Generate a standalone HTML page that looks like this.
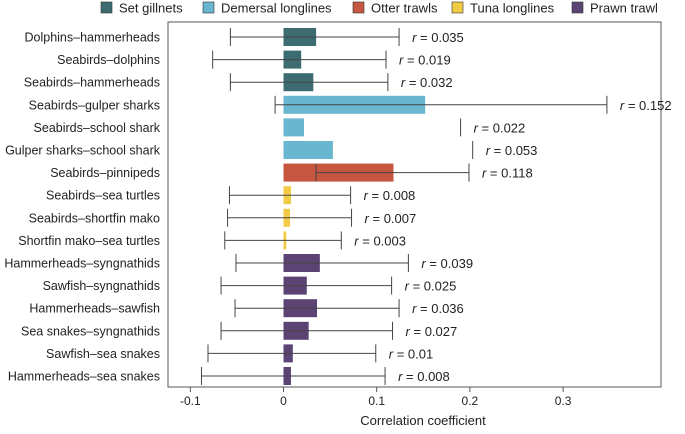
<!DOCTYPE html>
<html><head><meta charset="utf-8"><style>
body{margin:0;background:#fff;font-family:"Liberation Sans",sans-serif;}
svg text{font-family:"Liberation Sans",sans-serif;fill:#222;}
</style></head><body>
<svg id="c" width="685" height="429"></svg>
<script>
const categories=["Dolphins–hammerheads","Seabirds–dolphins","Seabirds–hammerheads","Seabirds–gulper sharks","Seabirds–school shark","Gulper sharks–school shark","Seabirds–pinnipeds","Seabirds–sea turtles","Seabirds–shortfin mako","Shortfin mako–sea turtles","Hammerheads–syngnathids","Sawfish–syngnathids","Hammerheads–sawfish","Sea snakes–syngnathids","Sawfish–sea snakes","Hammerheads–sea snakes"];
const values=[0.035,0.019,0.032,0.152,0.022,0.053,0.118,0.008,0.007,0.003,0.039,0.025,0.036,0.027,0.01,0.008];
const lower=[-0.057,-0.076,-0.057,-0.009,null,null,0.035,-0.058,-0.06,-0.063,-0.051,-0.067,-0.052,-0.067,-0.081,-0.088];
const upper=[0.124,0.11,0.112,0.347,0.19,0.203,0.199,0.072,0.073,0.062,0.134,0.116,0.124,0.117,0.099,0.109];
const gear=[0,0,0,1,1,1,2,3,3,3,4,4,4,4,4,4];
const gearNames=["Set gillnets","Demersal longlines","Otter trawls","Tuna longlines","Prawn trawl"];
const gearColors=["#3d6b72","#68b6cf","#c75640","#f2cb45","#5b4474"];
const xTicks=[-0.1,0,0.1,0.2,0.3];
const xTickLabels=["-0.1","0","0.1","0.2","0.3"];

const NS="http://www.w3.org/2000/svg";
const svg=document.getElementById('c');
function el(t,a,p){const e=document.createElementNS(NS,t);for(const k in a)e.setAttribute(k,a[k]);(p||svg).appendChild(e);return e;}
const x=v=>283.5+v*932;
const y=i=>37+i*22.6;
const L=168,R=661,T=22,B=387;

// legend
const lx=[101,203,353,452,572];
gearNames.forEach((n,i)=>{
  const g=el('g',{});
  
  
  el('rect',{x:lx[i],y:2,width:11,height:11,fill:gearColors[i],stroke:'#333','stroke-width':0.6},g);
  el('text',{x:lx[i]+18,y:12.5,'font-size':13},g).textContent=n;
});

const frame=el('rect',{x:L,y:T,width:R-L,height:B-T,fill:'none',stroke:'#555','stroke-width':1});



categories.forEach((c,i)=>{
  const cy=y(i);
  const lab=el('text',{x:L-8,y:cy+4.5,'font-size':12.5,'text-anchor':'end'});
  
  
  lab.textContent=c;
  const bar=el('rect',{x:Math.min(x(0),x(values[i])),y:cy-9,width:Math.abs(x(values[i])-x(0)),height:18,fill:gearColors[gear[i]]});
  
  
  const g=el('g',{stroke:'#444','stroke-width':1,fill:'none'});
  
  
  if(lower[i]!==null){
    el('line',{x1:x(lower[i]),x2:x(upper[i]),y1:cy,y2:cy},g);
    el('line',{x1:x(lower[i]),x2:x(lower[i]),y1:cy-9,y2:cy+9},g);
  }
  el('line',{x1:x(upper[i]),x2:x(upper[i]),y1:cy-9,y2:cy+9},g);
  const t=el('text',{x:x(upper[i])+13,y:cy+5,'font-size':13});
  
  
  t.innerHTML='<tspan font-style="italic">r</tspan> = '+values[i];
});

xTicks.forEach((v,i)=>{
  const tk=el('line',{x1:x(v),x2:x(v),y1:B,y2:B+5,stroke:'#555'});
  
  
  const t=el('text',{x:x(v),y:B+18,'font-size':12,'text-anchor':'middle'});
  
  
  t.textContent=xTickLabels[i];
});
const xt=el('text',{x:423,y:425,'font-size':13,'text-anchor':'middle'});


xt.textContent='Correlation coefficient';
</script>
</body></html>
